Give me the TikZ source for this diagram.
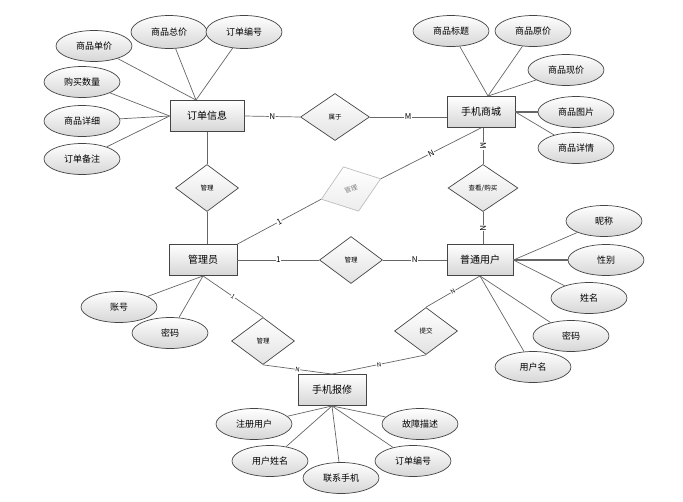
\documentclass[tikz,border=0pt]{standalone}
\usepackage{fontspec}
\setmainfont{Noto Sans CJK SC}
\usetikzlibrary{
  calc,
  shapes.geometric
}
\definecolor{erLine}{HTML}{666666}
\definecolor{erBorder}{HTML}{454545}
\definecolor{erShade}{HTML}{D6D6D6}
\definecolor{erFaint}{HTML}{BDBDBD}
\tikzset{
  erEntity/.style={
    draw=erBorder,
    line width=0.9pt,
    top color=white,
    bottom color=erShade,
    minimum width=68pt,
    minimum height=31pt,
    inner sep=2pt,
    font=\fontsize{10}{12}\selectfont
  },
  erAttr/.style={
    ellipse,
    draw=erBorder,
    line width=0.7pt,
    top color=white,
    bottom color=erShade,
    minimum width=76pt,
    minimum height=31pt,
    inner sep=0pt,
    font=\fontsize{9}{11}\selectfont
  },
  erRel/.style={
    diamond,
    draw=erBorder,
    line width=0.7pt,
    top color=white,
    bottom color=erShade!70,
    minimum width=63pt,
    minimum height=47pt,
    inner sep=0pt,
    font=\fontsize{6.5}{8}\selectfont
  },
  erFaintRel/.style={erRel, draw=erFaint, bottom color=erShade!45, text=black!50},
  erEdge/.style={draw=erLine, line width=0.7pt},
  erCard/.style={
    midway,
    sloped,
    fill=white,
    inner sep=0.5pt,
    font=\fontsize{8}{9}\selectfont
  },
  erCardSmall/.style={erCard, font=\fontsize{6}{7}\selectfont}
}

\begin{document}
\begin{tikzpicture}[x=1pt,y=-1pt]
  \useasboundingbox (0,0) rectangle (683,501);

  % entities
  \node[erEntity, minimum width=74pt] (ddxx) at (207,116) {订单信息};
  \node[erEntity] (sjsc) at (481,112) {手机商城};
  \node[erEntity] (gly) at (203,260) {管理员};
  \node[erEntity, minimum width=66pt] (ptyh) at (480,260) {普通用户};
  \node[erEntity] (sjbx) at (332,390) {手机报修};

  % relations
  \node[erRel, minimum width=69pt] (sy) at (335,117) {属于};
  \node[erRel] (glA) at (207,188) {管理};
  \node[erFaintRel, rotate=19] (glB) at (351,189) {管理};
  \node[erRel] (glC) at (351,260) {管理};
  \node[erRel, minimum width=70pt] (ckgm) at (483,188) {查看/购买};
  \node[erRel] (glD) at (263,341) {管理};
  \node[erRel] (tj) at (426,331) {提交};

  % attributes
  \node[erAttr] (spdj) at (94,46) {商品单价};
  \node[erAttr, minimum height=33pt] (spzj) at (169,32) {商品总价};
  \node[erAttr, minimum height=33pt] (ddbh) at (244,32) {订单编号};
  \node[erAttr] (gmsl) at (82,82) {购买数量};
  \node[erAttr] (spxx) at (82,121) {商品详细};
  \node[erAttr] (ddbz) at (82,159) {订单备注};

  \node[erAttr] (spbt) at (451,31) {商品标题};
  \node[erAttr] (spyj) at (533,31) {商品原价};
  \node[erAttr] (spxj) at (566,70) {商品现价};
  \node[erAttr] (sptp) at (576,112) {商品图片};
  \node[erAttr] (spxq) at (576,148) {商品详情};

  \node[erAttr] (nc) at (604,221) {昵称};
  \node[erAttr] (xb) at (606,260) {性别};
  \node[erAttr] (xm) at (589,298) {姓名};
  \node[erAttr] (mmB) at (571,336) {密码};
  \node[erAttr] (yhm) at (533,367) {用户名};

  \node[erAttr] (zh) at (119,307) {账号};
  \node[erAttr] (mmA) at (170,333) {密码};

  \node[erAttr] (zcyh) at (254,424) {注册用户};
  \node[erAttr] (yhxm) at (270,461) {用户姓名};
  \node[erAttr] (lxsj) at (341,478) {联系手机};
  \node[erAttr] (gzms) at (420,424) {故障描述};
  \node[erAttr] (ddbhB) at (413,461) {订单编号};

  \coordinate (ddtop) at ($(ddxx.north)+(-11,0)$);
  \coordinate (sctop) at ($(sjsc.north)+(7,0)$);

  % attribute links
  \foreach \a in {spdj,spzj,ddbh} \draw[erEdge] (\a) -- (ddtop);
  \foreach \a in {gmsl,spxx,ddbz} \draw[erEdge] (\a) -- (ddxx.west);
  \foreach \a in {spbt,spyj,spxj} \draw[erEdge] (\a) -- (sctop);
  \draw[erEdge, line width=1.6pt] (sptp) -- (sjsc.east);
  \draw[erEdge] (spxq) -- (sjsc.east);
  \foreach \a in {nc,xm} \draw[erEdge] (\a) -- (ptyh.east);
  \draw[erEdge, line width=1.6pt] (xb) -- (ptyh.east);
  \foreach \a in {mmB,yhm} \draw[erEdge] (\a) -- (ptyh.south);
  \foreach \a in {zh,mmA} \draw[erEdge] (\a) -- (gly.south);
  \foreach \a in {zcyh,yhxm,lxsj,gzms,ddbhB} \draw[erEdge] (\a) -- (sjbx.south);

  % relation links
  \draw[erEdge] (ddxx.east) -- node[erCard] {N} (sy.west);
  \draw[erEdge] (sy.east) -- node[erCard] {M} (sy.east -| sjsc.west);
  \draw[erEdge] (ddxx.south) -- (glA.north);
  \draw[erEdge] (glA.south) -- (glA.south |- gly.north);
  \draw[erEdge] (gly.east) -- node[erCard] {1} (glC.west);
  \draw[erEdge] (glC.east) -- node[erCard] {N} (ptyh.west);
  \draw[erEdge] (gly.north east) -- node[erCard] {1} (glB.west);
  \draw[erEdge] (glB.east) -- node[erCard] {N} (sjsc.south);
  \draw[erEdge] (ckgm.north |- sjsc.south) -- node[erCard] {M} (ckgm.north);
  \draw[erEdge] (ckgm.south) -- node[erCard] {N} (ckgm.south |- ptyh.north);
  \draw[erEdge] (gly.south) -- node[erCardSmall] {1} (glD.north);
  \draw[erEdge] (ptyh.south) -- node[erCardSmall] {N} (tj.north);
  \draw[erEdge] (glD.south) -- node[erCardSmall] {N} (sjbx.north);
  \draw[erEdge] (tj.south) -- node[erCardSmall] {N} (sjbx.north);
\end{tikzpicture}
\end{document}
